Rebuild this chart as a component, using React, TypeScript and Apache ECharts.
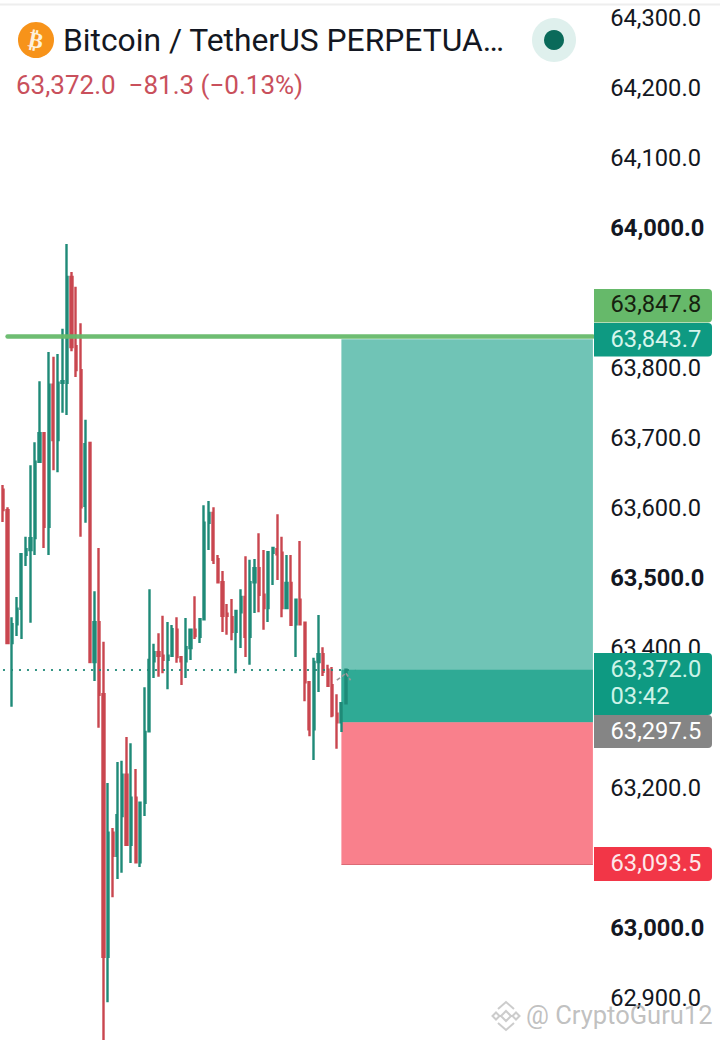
import React, { useEffect, useRef } from "react";
import * as echarts from "echarts";

const FONT = "Roboto, 'Liberation Sans', sans-serif";
const GREEN = "#1f8a78";
const RED = "#c9464f";

// [open, close, low, high]
const candles: number[][] = [
  [63626,63597,63580,63633],[63597,63407,63407,63601],[63407,63434,63316,63444],[63434,63456,63417,63473],
  [63456,63534,63413,63534],[63533,63541,63517,63559],[63540,63557,63436,63661],[63557,63666,63533,63694],
  [63666,63707,63666,63781],[63707,63573,63543,63707],[63573,63776,63533,63823],[63776,63697,63654,63816],
  [63697,63779,63651,63820],[63779,63781,63736,63856],[63779,63930,63733,63977],[63930,63830,63824,63937],
  [63831,63797,63787,63916],[63797,63601,63559,63864],[63603,63691,63579,63726],[63693,63380,63380,63693],
  [63380,63437,63353,63481],[63437,63333,63286,63543],[63334,62959,62833,63409],[62959,63136,62894,63207],
  [63136,63103,63044,63143],[63103,63161,63070,63237],[63160,63219,63079,63239],[63219,63119,63119,63273],
  [63119,63186,63093,63264],[63186,63094,63093,63227],[63094,63179,63087,63179],[63179,63280,63160,63344],
  [63281,63383,63281,63484],[63381,63394,63357,63406],[63394,63389,63359,63421],[63389,63383,63364,63446],
  [63383,63389,63341,63437],[63389,63427,63389,63433],[63426,63387,63379,63444],[63387,63381,63347,63387],
  [63381,63401,63357,63443],[63400,63426,63383,63426],[63426,63417,63413,63474],[63416,63441,63407,63441],
  [63441,63579,63441,63604],[63579,63593,63540,63610],[63593,63526,63520,63601],[63527,63494,63494,63533],
  [63494,63446,63423,63510],[63449,63446,63419,63463],[63444,63423,63411,63470],[63423,63453,63364,63453],
  [63451,63473,63400,63484],[63473,63416,63387,63531],[63416,63494,63376,63526],[63494,63514,63450,63527],
  [63514,63476,63451,63564],[63476,63457,63426,63540],[63457,63537,63437,63537],[63536,63543,63490,63544],
  [63541,63534,63497,63591],[63536,63457,63444,63559],[63457,63493,63457,63533],[63493,63433,63433,63533],
  [63434,63469,63387,63469],[63469,63434,63434,63553],[63436,63351,63324,63436],[63351,63284,63274,63351],
  [63284,63380,63240,63386],[63380,63391,63337,63447],[63391,63366,63360,63401],[63369,63346,63346,63376],
  [63347,63304,63301,63373],[63306,63294,63256,63334],[63294,63321,63280,63321],[63321,63369,63321,63369],
];

const BAND_COUNT = 130;
const categories: string[] = Array.from({ length: BAND_COUNT }, (_, i) => String(i));

const boldTicks = [63000, 63500, 64000];
const hiddenTicks = [62800, 63100, 63300, 63900, 64400];
const boxStartIndex = 74;
const boxEndIndex = 129;
const targetTop = 63841;
const resistanceLine = 63845;
const lastLine = 63369;
const entryLine = 63294;
const stopLine = 63091;

const titleText = "Bitcoin / TetherUS PERPETUA…";
const quoteText = "63,372.0  −81.3 (−0.13%)";
const watermarkText = "@ CryptoGuru12";

type Tag = { top: number; bottom: number; fill: string; ink: string; lines: [string, number][] };
const tags: Tag[] = [
  { top: 289, bottom: 322.5, fill: "#66b96a", ink: "#16210f", lines: [["63,847.8", 303.5]] },
  { top: 323, bottom: 356.5, fill: "#0e9a82", ink: "#d6f5ec", lines: [["63,843.7", 338.5]] },
  { top: 653, bottom: 715, fill: "#0e9a82", ink: "#cdf3e8", lines: [["63,372.0", 668.5], ["03:42", 695.5]] },
  { top: 715, bottom: 748, fill: "#858585", ink: "#ffffff", lines: [["63,297.5", 730.5]] },
  { top: 847, bottom: 881, fill: "#f23647", ink: "#fde8ea", lines: [["63,093.5", 862.5]] },
];

const fmt = (v: number) => v.toLocaleString("en-US", { minimumFractionDigits: 1, maximumFractionDigits: 1 });

const diamond = (cx: number, cy: number, r: number) => [[cx, cy - r], [cx + r, cy], [cx, cy + r], [cx - r, cy]];

export default function App() {
  const ref = useRef<HTMLDivElement>(null);
  useEffect(() => {
    document.body.style.background = "#ffffff";
    const chart = echarts.init(ref.current!, undefined, { renderer: "svg" });
    const tagEls: any[] = [];
    tags.forEach((t) => {
      tagEls.push({
        type: "rect", z: 20,
        shape: { x: 594, y: t.top, width: 118, height: t.bottom - t.top, r: [0, 4, 4, 0] },
        style: { fill: t.fill },
      });
      t.lines.forEach(([s, y]) =>
        tagEls.push({
          type: "text", z: 21,
          style: { text: s, x: 610.5, y, fill: t.ink, font: `23.7px ${FONT}`, verticalAlign: "middle", align: "left" },
        })
      );
    });
    const wmStyle = { fill: "none", stroke: "rgba(170,170,170,0.6)", lineWidth: 2 };
    const arrowStyle = { color: "#9a9a9a", width: 1.6, type: [4, 2] };
    chart.setOption({
      animation: false,
      backgroundColor: "#ffffff",
      grid: { left: 0.7, top: -52, width: 594.5, height: 1120, containLabel: false, outerBoundsMode: "none" },
      xAxis: { type: "category", data: categories, show: false, boundaryGap: true },
      yAxis: {
        type: "value",
        position: "right",
        min: 62800,
        max: 64400,
        interval: 100,
        splitLine: { show: false },
        axisLine: { show: false },
        axisTick: { show: false },
        axisLabel: {
          margin: 15,
          color: "#131722",
          fontFamily: FONT,
          fontSize: 23.7,
          hideOverlap: false,
          formatter: (v: number) =>
            hiddenTicks.includes(v) ? "" : boldTicks.includes(v) ? `{b|${fmt(v)}}` : fmt(v),
          rich: { b: { fontWeight: "bold", fontFamily: FONT, fontSize: 23.7, color: "#131722" } },
        },
      },
      series: [
        {
          type: "candlestick",
          data: candles,
          barWidth: 1.7,
          silent: true,
          clip: false,
          itemStyle: { color: GREEN, color0: RED, borderColor: GREEN, borderColor0: RED, borderWidth: 2.4 },
          markArea: {
            silent: true,
            label: { show: false },
            data: [
              [
                { xAxis: boxStartIndex, yAxis: targetTop, itemStyle: { color: "rgba(8,153,129,0.58)" } },
                { xAxis: boxEndIndex, yAxis: entryLine },
              ],
              [
                { xAxis: boxStartIndex, yAxis: lastLine, itemStyle: { color: "rgba(8,153,129,0.62)" } },
                { xAxis: boxEndIndex, yAxis: entryLine },
              ],
              [
                { xAxis: boxStartIndex, yAxis: entryLine, itemStyle: { color: "rgba(245,50,70,0.62)" } },
                { xAxis: boxEndIndex, yAxis: stopLine },
              ],
            ],
          },
          markLine: {
            silent: true,
            symbol: "none",
            label: { show: false },
            data: [
              [
                { xAxis: 1, yAxis: resistanceLine, lineStyle: { color: "#66b96a", width: 4.5, type: "solid", cap: "round", opacity: 0.95 } },
                { xAxis: boxEndIndex, yAxis: resistanceLine },
              ],
              [
                { xAxis: 0, yAxis: lastLine, lineStyle: { color: GREEN, width: 2, type: [2, 6], opacity: 0.9 } },
                { xAxis: 77, yAxis: lastLine },
              ],
              [
                { xAxis: boxStartIndex, yAxis: stopLine, lineStyle: { color: "#dc6a75", width: 1, type: "solid" } },
                { xAxis: boxEndIndex, yAxis: stopLine },
              ],
              [
                { xAxis: 73, yAxis: 63354, lineStyle: arrowStyle },
                { xAxis: 75, yAxis: 63364 },
              ],
              [
                { xAxis: 75, yAxis: 63364, lineStyle: arrowStyle },
                { xAxis: 76, yAxis: 63354 },
              ],
            ],
          },
        },
      ],
      graphic: [
        { type: "rect", z: 20, shape: { x: 0, y: 3.5, width: 720, height: 2 }, style: { fill: "#eeeeee" } },
        { type: "circle", z: 20, shape: { cx: 36, cy: 40, r: 18 }, style: { fill: "#f7931a" } },
        {
          type: "text", z: 21, x: 36, y: 40, rotation: -0.2,
          style: { text: "₿", x: 0, y: 0, fill: "#fdf1dc", font: `bold 22px 'DejaVu Sans'`, align: "center", verticalAlign: "middle" },
        },
        {
          type: "text", z: 21,
          style: { text: titleText, x: 63, y: 40, fill: "#131722", font: `31.8px ${FONT}`, verticalAlign: "middle" },
        },
        {
          type: "text", z: 21,
          style: { text: quoteText, x: 16, y: 85, fill: "#c9505c", font: `26px ${FONT}`, verticalAlign: "middle" },
        },
        { type: "circle", z: 20, shape: { cx: 554, cy: 40, r: 22 }, style: { fill: "#dff0ed" } },
        { type: "circle", z: 21, shape: { cx: 554, cy: 40, r: 10 }, style: { fill: "#0a6a5a" } },
        ...tagEls,
        { type: "polygon", z: 22, shape: { points: diamond(506, 1016, 5) }, style: wmStyle },
        { type: "polygon", z: 22, shape: { points: diamond(496, 1016, 3.5) }, style: wmStyle },
        { type: "polygon", z: 22, shape: { points: diamond(516, 1016, 3.5) }, style: wmStyle },
        { type: "polyline", z: 22, shape: { points: [[498, 1009], [506, 1002], [514, 1009]] }, style: wmStyle },
        { type: "polyline", z: 22, shape: { points: [[498, 1023], [506, 1030], [514, 1023]] }, style: wmStyle },
        {
          type: "text", z: 22,
          style: { text: watermarkText, x: 526, y: 1015, fill: "rgba(165,165,165,0.7)", font: `25.5px ${FONT}`, verticalAlign: "middle" },
        },
      ],
    });
    return () => chart.dispose();
  }, []);
  return <div ref={ref} style={{ position: "absolute", left: 0, top: 0, width: 720, height: 1040, overflow: "hidden" }} />;
}
